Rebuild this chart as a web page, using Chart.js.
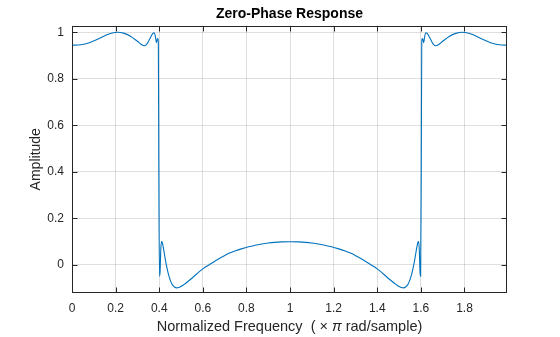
<!DOCTYPE html>
<html>
<head>
<meta charset="utf-8">
<script src="https://cdn.jsdelivr.net/npm/chart.js@4"></script>
<style>
  html, body { margin: 0; padding: 0; background: #ffffff; }
  #wrap { width: 560px; height: 337px; }
</style>
</head>
<body>
<div id="wrap"><canvas id="c" width="560" height="337"></canvas></div>
<script>
// Zero-phase amplitude samples (frequency in units of pi rad/sample)
const freq = [
  0.000, 0.040, 0.080, 0.120, 0.160, 0.190, 0.210, 0.240, 0.270, 0.300,
  0.320, 0.333, 0.345, 0.358, 0.370, 0.377, 0.383, 0.387, 0.391, 0.394,
  0.396, 0.398, 0.401, 0.404, 0.407, 0.410, 0.413, 0.418, 0.424, 0.430,
  0.437, 0.444, 0.452, 0.460, 0.470, 0.480, 0.490, 0.500, 0.520, 0.540,
  0.560, 0.580, 0.600, 0.630, 0.660, 0.690, 0.720, 0.750, 0.780, 0.810,
  0.840, 0.870, 0.900, 0.930, 0.960, 1.000,
  1.040, 1.070, 1.100, 1.130, 1.160, 1.190, 1.220, 1.250, 1.280, 1.310,
  1.340, 1.370, 1.400, 1.420, 1.440, 1.460, 1.480, 1.500, 1.510, 1.520,
  1.530, 1.540, 1.548, 1.556, 1.563, 1.570, 1.576, 1.582, 1.587, 1.590,
  1.593, 1.596, 1.599, 1.602, 1.604, 1.606, 1.609, 1.613, 1.617, 1.623,
  1.630, 1.642, 1.655, 1.667, 1.680, 1.700, 1.730, 1.760, 1.790, 1.810,
  1.840, 1.880, 1.920, 1.960, 1.995
];
const amplitude = [
  0.945, 0.947, 0.956, 0.972, 0.990, 0.999, 1.001, 0.996, 0.983, 0.962,
  0.947, 0.943, 0.952, 0.975, 0.995, 0.999, 0.980, 0.956, 0.970, 0.974,
  0.955, 0.450, -0.050, -0.030, 0.060, 0.100, 0.098, 0.078, 0.045, 0.012,
  -0.020, -0.047, -0.070, -0.086, -0.096, -0.100, -0.098, -0.094, -0.081, -0.066,
  -0.050, -0.033, -0.018, 0.000, 0.018, 0.034, 0.049, 0.060, 0.069, 0.077,
  0.084, 0.089, 0.093, 0.096, 0.098, 0.099,
  0.098, 0.096, 0.093, 0.089, 0.084, 0.077, 0.069, 0.060, 0.049, 0.034,
  0.018, 0.000, -0.018, -0.033, -0.050, -0.066, -0.081, -0.094, -0.098, -0.100,
  -0.096, -0.086, -0.070, -0.047, -0.020, 0.012, 0.045, 0.078, 0.098, 0.100,
  0.060, -0.030, -0.050, 0.450, 0.955, 0.974, 0.970, 0.956, 0.980, 0.999,
  0.995, 0.975, 0.952, 0.943, 0.947, 0.962, 0.983, 0.996, 1.001, 0.999,
  0.990, 0.972, 0.956, 0.947, 0.945
];

// Axis limits and tick positions
const xRange = [0, 1.995];
const yRange = [-0.122, 1.03];
const xTicks = [0, 0.2, 0.4, 0.6, 0.8, 1, 1.2, 1.4, 1.6, 1.8];
const yTicks = [0, 0.2, 0.4, 0.6, 0.8, 1];

// Text
const titleText = 'Zero-Phase Response';
const yTitle = 'Amplitude';
const xTitleParts = ['Normalized Frequency  ( \u00d7 ', '\u03c0', ' rad/sample)'];

const FONT = '"Liberation Sans", Arial, Helvetica, sans-serif';
const AXIS_COLOR = '#262626';

const points = freq.map((f, i) => ({ x: f, y: amplitude[i] }));

// Box outline, inward tick marks on all four sides, and the x-axis title
const framePlugin = {
  id: 'frame',
  afterDraw(chart) {
    const { ctx, chartArea: a, scales: { x, y } } = chart;
    const L = Math.round(a.left) + 0.5;
    const R = Math.round(a.right) - 0.5;
    const T = Math.round(a.top) + 0.5;
    const B = Math.round(a.bottom) - 0.5;
    const len = 5;
    ctx.save();
    ctx.strokeStyle = AXIS_COLOR;
    ctx.lineWidth = 1;
    ctx.strokeRect(L, T, R - L, B - T);
    ctx.beginPath();
    xTicks.forEach(v => {
      const px = Math.round(x.getPixelForValue(v)) + 0.5;
      ctx.moveTo(px, B); ctx.lineTo(px, B - len);
      ctx.moveTo(px, T); ctx.lineTo(px, T + len);
    });
    yTicks.forEach(v => {
      const py = Math.round(y.getPixelForValue(v)) + 0.5;
      ctx.moveTo(L, py); ctx.lineTo(L + len, py);
      ctx.moveTo(R, py); ctx.lineTo(R - len, py);
    });
    ctx.stroke();

    // x-axis title with an italic pi
    const size = 14.5;
    const normal = `${size}px ${FONT}`;
    const italic = `italic ${size}px ${FONT}`;
    const fonts = [normal, italic, normal];
    const widths = xTitleParts.map((t, i) => { ctx.font = fonts[i]; return ctx.measureText(t).width; });
    const total = widths.reduce((s, w) => s + w, 0);
    let cx = (a.left + a.right) / 2 - total / 2;
    const cy = 327;
    ctx.fillStyle = AXIS_COLOR;
    ctx.textBaseline = 'middle';
    ctx.textAlign = 'left';
    xTitleParts.forEach((t, i) => {
      ctx.font = fonts[i];
      ctx.fillText(t, cx, cy);
      cx += widths[i];
    });
    ctx.restore();
  }
};

new Chart(document.getElementById('c'), {
  type: 'line',
  data: {
    datasets: [{
      data: points,
      borderColor: '#0072BD',
      borderWidth: 1.1,
      pointRadius: 0,
      fill: false,
      cubicInterpolationMode: 'monotone'
    }]
  },
  options: {
    responsive: false,
    devicePixelRatio: 1,
    animation: false,
    layout: { padding: { left: 0, right: 53, top: 0, bottom: 0 } },
    plugins: {
      legend: { display: false },
      tooltip: { enabled: false },
      title: {
        display: true,
        text: titleText,
        fullSize: false,
        color: '#000000',
        font: { family: FONT, size: 14, weight: 'bold' },
        padding: { top: 6, bottom: 2.7 }
      }
    },
    scales: {
      x: {
        type: 'linear',
        min: xRange[0],
        max: xRange[1],
        afterBuildTicks: s => { s.ticks = xTicks.map(v => ({ value: v })); },
        afterFit: s => { s.height = 44; },
        grid: { color: 'rgba(38,38,38,0.15)', drawTicks: false },
        border: { display: false },
        ticks: {
          color: AXIS_COLOR,
          font: { family: FONT, size: 12 },
          padding: 8,
          maxRotation: 0,
          autoSkip: false,
          callback: v => String(v)
        }
      },
      y: {
        type: 'linear',
        min: yRange[0],
        max: yRange[1],
        afterBuildTicks: s => { s.ticks = yTicks.map(v => ({ value: v })); },
        afterFit: s => { s.width = 72; },
        grid: { color: 'rgba(38,38,38,0.15)', drawTicks: false },
        border: { display: false },
        ticks: {
          color: AXIS_COLOR,
          font: { family: FONT, size: 12 },
          padding: 8,
          autoSkip: false,
          callback: v => String(v)
        },
        title: {
          display: true,
          text: yTitle,
          color: AXIS_COLOR,
          font: { family: FONT, size: 14 },
          padding: { top: 28, bottom: 0 }
        }
      }
    }
  },
  plugins: [framePlugin]
});
</script>
</body>
</html>
